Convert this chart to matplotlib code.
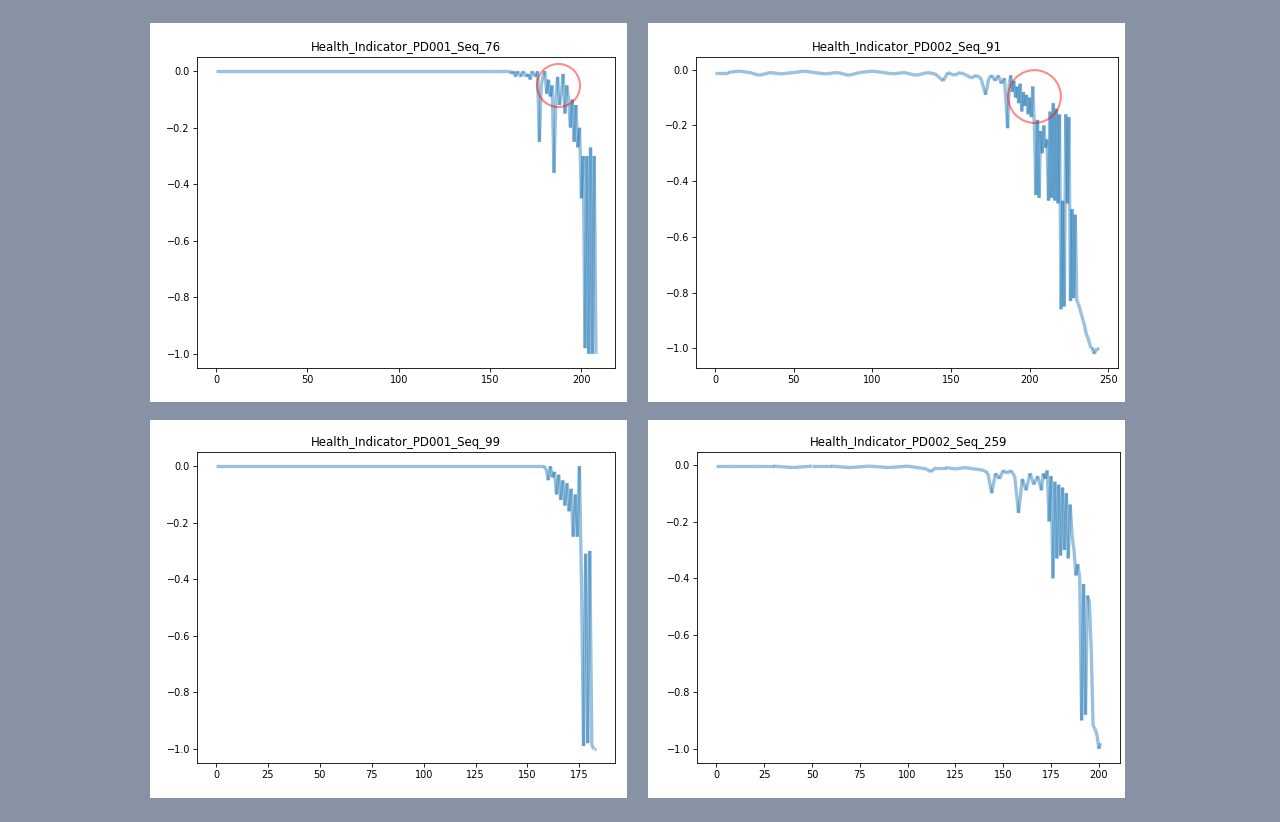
import matplotlib
matplotlib.use("Agg")
import matplotlib.pyplot as plt
from matplotlib.collections import LineCollection
from matplotlib.patches import Rectangle
import numpy as np

titles = ["Health_Indicator_PD001_Seq_76", "Health_Indicator_PD002_Seq_91",
          "Health_Indicator_PD001_Seq_99", "Health_Indicator_PD002_Seq_259"]

# Panel 1
x1 = [0, 150, 160, 161, 162, 163, 164, 165, 166, 167, 168, 169, 170, 171, 172, 173, 174, 175,
      176, 177, 178, 179, 180, 181, 182, 183, 184, 185, 186, 187, 188, 189, 190, 191, 192, 193,
      194, 195, 196, 197, 198, 199, 200, 201, 202, 203, 204, 205, 206, 207, 208]
y1 = [0.0, 0.0, 0.0, 0.0, -0.01, 0.0, -0.02, 0.0, -0.01, -0.02, 0.0, -0.01, -0.02, -0.01, -0.03,
      0.0, -0.01, -0.02, 0.0, -0.25, -0.05, -0.02, 0.0, -0.08, -0.03, -0.09, -0.05, -0.36, -0.1,
      -0.02, -0.12, -0.08, -0.01, -0.15, -0.05, -0.1, -0.2, -0.1, -0.25, -0.12, -0.27, -0.2,
      -0.45, -0.3, -0.98, -0.3, -1.0, -0.27, -1.0, -0.3, -1.0]

# Panel 2
x2 = [0, 8, 15, 22, 28, 35, 42, 50, 57, 63, 70, 78, 85, 92, 100, 107, 113, 120, 128, 135, 140,
      145, 148, 152, 156, 160, 163, 166, 169, 172, 174, 176, 178, 180, 182, 184, 186, 187, 188,
      189, 190, 191, 192, 193, 194, 195, 196, 197, 198, 199, 200, 201, 202, 203, 204, 205, 206,
      207, 208, 209, 210, 211, 212, 213, 214, 215, 216, 217, 218, 219, 220, 221, 222, 223, 224,
      225, 226, 227, 228, 229, 230, 231, 232, 233, 234, 235, 236, 237, 238, 239, 240, 241, 242,
      243, 244]
y2 = [-0.01, -0.01, -0.005, -0.01, -0.02, -0.01, -0.015, -0.01, -0.005, -0.01, -0.015, -0.01,
      -0.02, -0.01, -0.005, -0.01, -0.015, -0.01, -0.02, -0.01, -0.015, -0.04, -0.01, -0.02,
      -0.01, -0.02, -0.03, -0.02, -0.03, -0.09, -0.03, -0.02, -0.04, -0.02, -0.05, -0.03, -0.21,
      -0.05, -0.02, -0.08, -0.04, -0.1, -0.06, -0.12, -0.05, -0.15, -0.08, -0.13, -0.09, -0.16,
      -0.1, -0.17, -0.06, -0.2, -0.45, -0.18, -0.46, -0.22, -0.3, -0.2, -0.28, -0.25, -0.47,
      -0.15, -0.46, -0.12, -0.47, -0.14, -0.48, -0.16, -0.86, -0.47, -0.85, -0.16, -0.48, -0.17,
      -0.83, -0.5, -0.82, -0.52, -0.83, -0.84, -0.86, -0.88, -0.9, -0.92, -0.95, -0.96, -0.98,
      -1.0, -1.0, -1.02, -1.01, -1.0, -1.0]

# Panel 3
x3 = [0, 158, 159, 160, 161, 162, 163, 164, 165, 166, 167, 168, 169, 170, 171, 172, 173, 174,
      175, 176, 177, 178, 179, 180, 181, 182, 183]
y3 = [0.0, 0.0, -0.01, -0.05, 0.0, -0.04, -0.02, -0.1, -0.03, -0.12, -0.05, -0.14, -0.06,
      -0.16, -0.08, -0.25, -0.1, -0.25, 0.0, -0.4, -0.99, -0.31, -0.98, -0.3, -0.99, -1.0, -1.0]

# Panel 4
x4 = [0, 10, 20, 30, 40, 50, 60, 70, 80, 90, 100, 105, 110, 112, 115, 120, 125, 130, 135, 140,
      142, 144, 146, 148, 150, 152, 154, 156, 158, 160, 162, 164, 166, 168, 170, 171, 172, 173,
      174, 175, 176, 177, 178, 179, 180, 181, 182, 183, 184, 185, 186, 187, 188, 189, 190, 191,
      192, 193, 194, 195, 196, 197, 198, 199, 200, 201]
y4 = [-0.005, -0.005, -0.005, -0.005, -0.01, -0.005, -0.005, -0.01, -0.005, -0.01, -0.005,
      -0.01, -0.015, -0.025, -0.01, -0.01, -0.015, -0.01, -0.015, -0.02, -0.03, -0.1, -0.03,
      -0.05, -0.02, -0.03, -0.02, -0.04, -0.17, -0.05, -0.09, -0.03, -0.07, -0.04, -0.09, -0.03,
      -0.05, -0.02, -0.2, -0.04, -0.4, -0.06, -0.33, -0.07, -0.32, -0.08, -0.3, -0.1, -0.33,
      -0.14, -0.25, -0.3, -0.39, -0.35, -0.4, -0.9, -0.42, -0.88, -0.46, -0.48, -0.65, -0.92,
      -0.93, -0.95, -1.0, -0.98]

series = [(x1, y1), (x2, y2), (x3, y3), (x4, y4)]

# highlight circles (panel index, x, y, markersize)
circ_panel = [0, 1]
circ_x = [187, 203]
circ_y = [-0.05, -0.095]
circ_ms = [31, 38]

W, H = 1280, 822
fig = plt.figure(figsize=(W / 100, H / 100), dpi=100, facecolor="#8793a5")

panels_px = [(150, 23, 627, 402), (648, 23, 1125, 402), (150, 420, 627, 798), (648, 420, 1125, 798)]
axes_px = [(197, 57, 615, 368), (696, 57, 1118, 368), (197, 452, 615, 763), (697, 452, 1120, 763)]

for (l, t, r, b) in panels_px:
    fig.add_artist(Rectangle((l / W, 1 - b / H), (r - l) / W, (b - t) / H,
                             transform=fig.transFigure, facecolor="white",
                             edgecolor="none", zorder=-5))

axes = []
for i, (l, t, r, b) in enumerate(axes_px):
    ax = fig.add_axes([l / W, 1 - b / H, (r - l) / W, (b - t) / H])
    ax.set_zorder(1)
    x, y = series[i]
    pts = np.column_stack([x, y])
    segs = np.stack([pts[:-1], pts[1:]], axis=1)
    lc = LineCollection(segs, colors="#1f77b4", alpha=0.45, linewidths=2.4, capstyle="butt")
    ax.add_collection(lc)
    ax.autoscale_view()
    ax.margins(0.05)
    ax.set_title(titles[i], fontsize=8.5, pad=4)
    ax.tick_params(labelsize=7, length=2.6, width=0.6, pad=2.5)
    for s in ax.spines.values():
        s.set_linewidth(0.6)
    axes.append(ax)

for p, cx, cy, ms in zip(circ_panel, circ_x, circ_y, circ_ms):
    axes[p].plot([cx], [cy], marker="o", markersize=ms, markerfacecolor="none",
                 markeredgecolor="red", markeredgewidth=1.5, alpha=0.45, linestyle="none")

fig.savefig("out.png", dpi=100, facecolor=fig.get_facecolor())
